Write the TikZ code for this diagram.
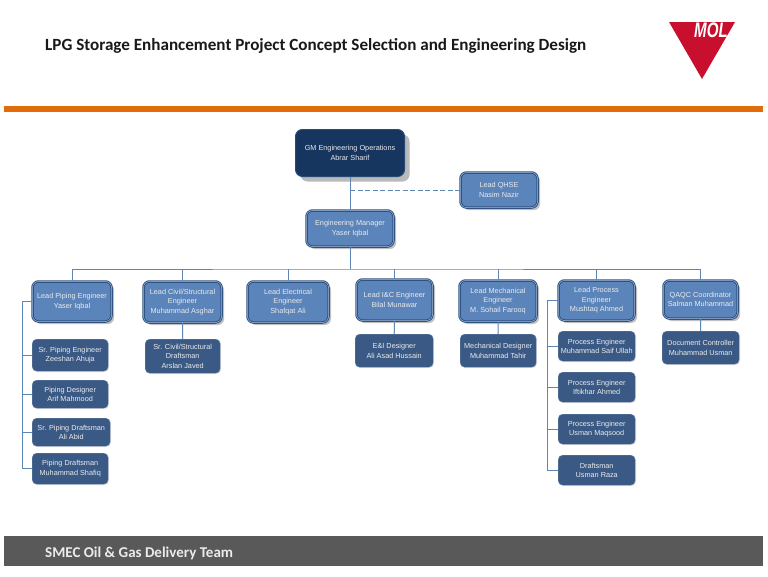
\documentclass[tikz,border=0pt]{standalone}
\usepackage{fontspec}
\setmainfont{Liberation Sans}
\newfontfamily\headfont{Carlito}
\usetikzlibrary{shadows}
\definecolor{lead}{HTML}{5B84BA}
\definecolor{leadedge}{HTML}{2F5280}
\definecolor{staff}{HTML}{3A5A85}
\definecolor{topcol}{HTML}{17365F}
\definecolor{wire}{HTML}{5E86B5}
\definecolor{barorange}{HTML}{E36C0A}
\definecolor{footer}{HTML}{595959}
\definecolor{molred}{HTML}{C8102E}
\tikzset{
  card/.style={rounded corners=4.5pt,align=center,text=white!92!black,inner sep=0pt,font=\fontsize{7.3}{9.4}\selectfont,anchor=north west},
  leadbox/.style={card,rounded corners=6pt,fill=lead,draw=leadedge,line width=1pt,double=lead!55!white,double distance=.5pt,drop shadow={shadow xshift=2.5pt,shadow yshift=-2.5pt,fill=black!40,opacity=.6}},
  staffbox/.style={card,fill=staff,draw=staff!75!white,line width=.4pt,drop shadow={shadow xshift=1pt,shadow yshift=-1pt,fill=black!15,opacity=.5}},
  topbox/.style={card,fill=topcol,draw=leadedge!70!topcol,line width=1pt,rounded corners=7pt,drop shadow={shadow xshift=5pt,shadow yshift=-5pt,fill=black!45,opacity=.6}},
  wireline/.style={draw=wire,line width=1pt},
  dashline/.style={wireline,dash pattern=on 5pt off 2.5pt},
}
\begin{document}
\begin{tikzpicture}[x=1pt,y=-1pt]
\useasboundingbox (0,0) rectangle (768,576);
\fill[white] (0,0) rectangle (768,576);
\node[anchor=west,font=\headfont\bfseries\fontsize{17.1}{20}\selectfont,text=black!90,inner sep=0pt] (title) at (45,46) {LPG Storage Enhancement Project Concept Selection and Engineering Design};
\fill[barorange] (4,106) rectangle (763,112);
\fill[footer] (4,536) rectangle (763,566);
\node[anchor=west,font=\headfont\bfseries\fontsize{15}{17}\selectfont,text=white!92!black,inner sep=0pt] (foot) at (45,553) {SMEC Oil \& Gas Delivery Team};
\fill[molred] (669,22) -- (735,22) -- (702,79) -- cycle;
\node[font=\bfseries\itshape\fontsize{21}{21}\selectfont,text=white,inner sep=0pt,xscale=.72] (mol) at (711,30) {MOL};
\coordinate (bus) at (350,269);
\coordinate (raila) at (22,300);
\coordinate (railb) at (547,300);
\node[topbox,minimum width=109pt,minimum height=47pt] (gm) at (295,129) {GM Engineering Operations\\Abrar Sharif};
\node[leadbox,minimum width=77pt,minimum height=35pt] (qhse) at (460,172) {Lead QHSE\\Nasim Nazir};
\node[leadbox,minimum width=87pt,minimum height=36pt] (em) at (306,210) {Engineering Manager\\Yaser Iqbal};
\node[leadbox,minimum width=79pt,minimum height=40pt] (l1) at (32,281) {Lead Piping Engineer\\Yaser Iqbal};
\node[leadbox,minimum width=78pt,minimum height=41pt] (l2) at (143,281) {Lead Civil/Structural\\Engineer\\Muhammad Asghar};
\node[leadbox,minimum width=81pt,minimum height=41pt] (l3) at (247,281) {Lead Electrical\\Engineer\\Shafqat Ali};
\node[leadbox,minimum width=76pt,minimum height=41pt] (l4) at (356,279) {Lead I\&C Engineer\\Bilal Munawar};
\node[leadbox,minimum width=77pt,minimum height=41pt] (l5) at (459,280) {Lead Mechanical\\Engineer\\M. Sohail Farooq};
\node[leadbox,minimum width=76pt,minimum height=40pt] (l6) at (558,280) {Lead Process\\Engineer\\Mushtaq Ahmed};
\node[leadbox,minimum width=74pt,minimum height=38pt] (l7) at (663,280) {QAQC Coordinator\\Salman Muhammad};
\node[staffbox,minimum width=76pt,minimum height=32pt] (p1) at (32,339) {Sr. Piping Engineer\\Zeeshan Ahuja};
\node[staffbox,minimum width=76pt,minimum height=28pt] (p2) at (32,380) {Piping Designer\\Arif Mahmood};
\node[staffbox,minimum width=78pt,minimum height=28pt] (p3) at (32,418) {Sr. Piping Draftsman\\Ali Abid};
\node[staffbox,minimum width=76pt,minimum height=31pt] (p4) at (32,453) {Piping Draftsman\\Muhammad Shafiq};
\node[staffbox,minimum width=75pt,minimum height=34pt] (c1) at (145,339) {Sr. Civil/Structural\\Draftsman\\Arslan Javed};
\node[staffbox,minimum width=78pt,minimum height=33pt] (i1) at (355,334) {E\&I Designer\\Ali Asad Hussain};
\node[staffbox,minimum width=76pt,minimum height=33pt] (m1) at (460,334) {Mechanical Designer\\Muhammad Tahir};
\node[staffbox,minimum width=77pt,minimum height=30pt] (r1) at (558,331) {Process Engineer\\Muhammad Saif Ullah};
\node[staffbox,minimum width=77pt,minimum height=30pt] (r2) at (558,372) {Process Engineer\\Iftikhar Ahmed};
\node[staffbox,minimum width=77pt,minimum height=30pt] (r3) at (558,414) {Process Engineer\\Usman Maqsood};
\node[staffbox,minimum width=77pt,minimum height=30pt] (r4) at (558,455) {Draftsman\\Usman Raza};
\node[staffbox,minimum width=77pt,minimum height=33pt] (q1) at (662,331) {Document Controller\\Muhammad Usman};
\draw[wireline] (gm.south) -- (em.north);
\draw[dashline] (gm.south |- qhse.west) -- (qhse.west);
\draw[wireline] (em.south) -- (bus);
\draw[wireline] (l1.north) |- (bus) -| (l7.north);
\foreach \n in {l2,l3,l4,l5,l6} \draw[wireline] (\n.north) -- (\n.north |- bus);
\draw[wireline] (l2.south) -- (c1.north);
\draw[wireline] (l4.south) -- (i1.north);
\draw[wireline] (l5.south) -- (m1.north);
\draw[wireline] (l7.south) -- (q1.north);
\draw[wireline] (l1.west) -| (p4.west -| raila) -- (p4.west);
\foreach \n in {p1,p2,p3} \draw[wireline] (\n.west) -- (\n.west -| raila);
\draw[wireline] (l6.west) -| (r4.west -| railb) -- (r4.west);
\foreach \n in {r1,r2,r3} \draw[wireline] (\n.west) -- (\n.west -| railb);
\end{tikzpicture}
\end{document}
